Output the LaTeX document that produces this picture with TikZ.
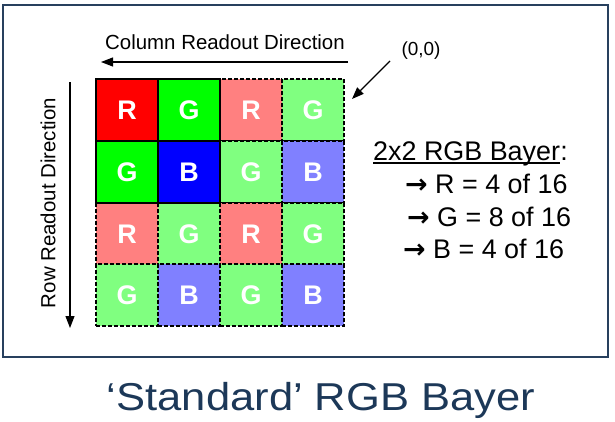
\documentclass[tikz,border=0pt]{standalone}
\usepackage{fontspec}
\usepackage{xcolor}
\setmainfont{Liberation Sans}
\newfontfamily\arrowfont{DejaVu Sans Bold}
\newfontfamily\titlefont[FakeStretch=1.12]{Liberation Sans}
\usetikzlibrary{arrows.meta}

\definecolor{bayerR}{RGB}{255,0,0}
\definecolor{bayerG}{RGB}{0,255,0}
\definecolor{bayerB}{RGB}{0,0,255}
\definecolor{paleR}{RGB}{255,128,128}
\definecolor{paleG}{RGB}{128,255,128}
\definecolor{paleB}{RGB}{128,128,255}
\definecolor{framecol}{RGB}{40,64,94}
\definecolor{titlecol}{RGB}{28,56,88}

\tikzset{
  cell/.style={minimum size=62bp, inner sep=0pt, line width=1.5bp,
    text=white, font=\fontsize{27}{27}\selectfont\bfseries},
  readout/.style={line width=1.2bp, -{Triangle[length=12bp,width=9bp]}},
  label/.style={inner sep=0pt, font=\fontsize{20.5}{24}\selectfont},
  count/.style={inner sep=0pt, anchor=base west, font=\fontsize{27}{32}\selectfont}
}

\begin{document}
\begin{tikzpicture}[x=1bp,y=-1bp]
\useasboundingbox (0,0) rectangle (615,421);
\draw[framecol, line width=2bp] (3,5) rectangle (608,357);

% pale cells first, solid 2x2 block on top
\foreach \name/\lbl/\col/\cx/\cy in {
  c13/R/paleR/251/110, c14/G/paleG/313/110,
  c23/G/paleG/251/172, c24/B/paleB/313/172,
  c31/R/paleR/127/234, c32/G/paleG/189/234, c33/R/paleR/251/234, c34/G/paleG/313/234,
  c41/G/paleG/127/295, c42/B/paleB/189/295, c43/G/paleG/251/295, c44/B/paleB/313/295}
  \node[cell, fill=\col, draw, dash pattern=on 4bp off 2bp] (\name) at (\cx,\cy) {\lbl};
\foreach \name/\lbl/\col/\cx/\cy in {
  c11/R/bayerR/127/110, c12/G/bayerG/189/110,
  c21/G/bayerG/127/172, c22/B/bayerB/189/172}
  \node[cell, fill=\col, draw] (\name) at (\cx,\cy) {\lbl};

% readout directions
\node[label] (collbl) at (225,42) {Column Readout Direction};
\coordinate (colA) at (348,62);
\coordinate (colB) at (101,62);
\draw[readout] (colA) -- (colB);

\node[label, rotate=90] (rowlbl) at (48,203) {Row Readout Direction};
\coordinate (rowA) at (70,82);
\coordinate (rowB) at (70,328);
\draw[readout] (rowA) -- (rowB);

% origin
\node[label, font=\fontsize{19}{22}\selectfont] (origin) at (421,51) {(0,0)};
\coordinate (orgA) at (390,61);
\coordinate (orgB) at (352,99);
\draw[readout] (orgA) -- (orgB);

% counts
\node[count] (bayer) at (373,160) {2x2 RGB Bayer};
\node[count] (colon) at (bayer.base east) {:};
\draw[line width=1.5bp] ([yshift=-3bp]bayer.base west) -- ([yshift=-3bp]bayer.base east);
\node[count] (rline) at (405,193) {{\arrowfont →} R = 4 of 16};
\node[count] (gline) at (407,226) {{\arrowfont →} G = 8 of 16};
\node[count] (bline) at (403,258) {{\arrowfont →} B = 4 of 16};

\node[anchor=base, inner sep=0pt, text=titlecol,
  font=\fontsize{39}{44}\selectfont\titlefont] (title) at (321,410) {‘Standard’ RGB Bayer};
\end{tikzpicture}
\end{document}
